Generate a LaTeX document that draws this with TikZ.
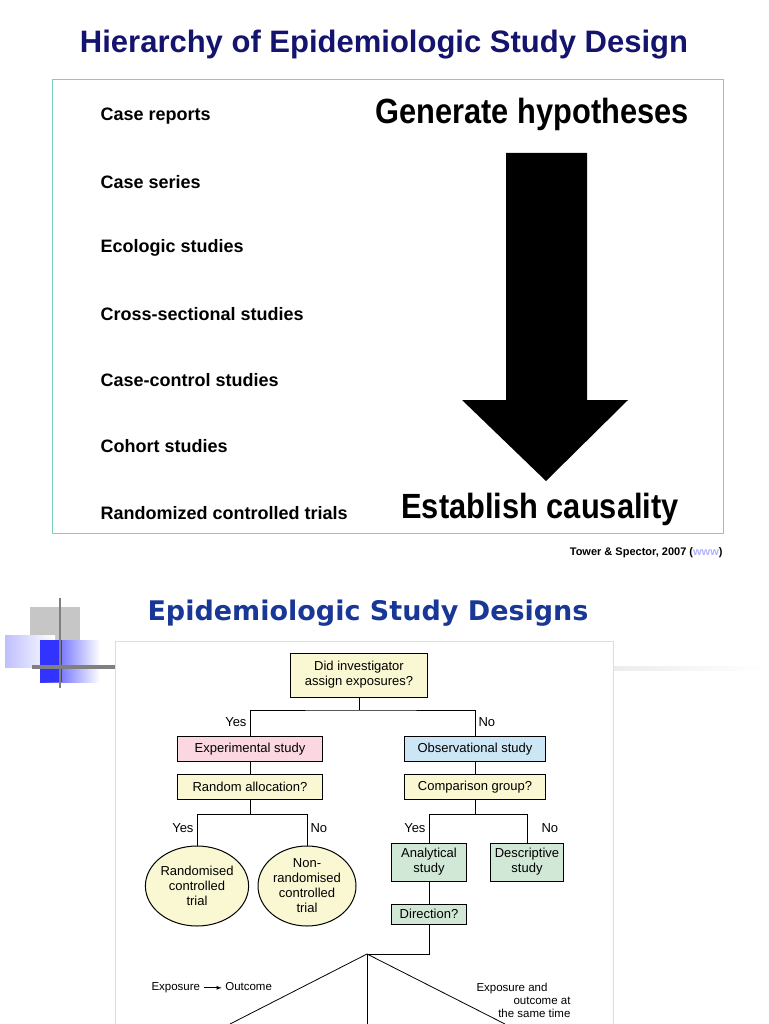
\documentclass[tikz,border=0pt]{standalone}
\usepackage{fontspec}
\setmainfont{Liberation Sans}
\newfontfamily\dejavu{DejaVu Sans}
\usetikzlibrary{shapes.geometric}
\definecolor{navy}{RGB}{20,20,110}
\definecolor{tblue}{RGB}{25,55,150}
\definecolor{teal}{RGB}{120,210,190}
\definecolor{pinkf}{RGB}{250,215,225}
\definecolor{bluef}{RGB}{205,230,245}
\definecolor{yelf}{RGB}{250,248,210}
\definecolor{greenf}{RGB}{210,232,215}
\begin{document}
\begin{tikzpicture}[x=1pt,y=-1pt,
  lst/.style={anchor=west,font=\fontsize{18}{18}\selectfont\bfseries},
  big/.style={font=\fontsize{35}{35}\selectfont\bfseries,xscale=0.88},
  bx/.style={draw=black,line width=1pt,minimum height=25pt,inner sep=2pt,font=\fontsize{13}{15}\selectfont},
  el/.style={ellipse,draw=black,line width=1pt,fill=yelf,minimum width=98pt,minimum height=80pt,inner sep=0pt,align=center,font=\fontsize{13}{15}\selectfont},
  lab/.style={font=\fontsize{13}{14}\selectfont},
  ln/.style={line width=0.8pt}]
\useasboundingbox (0,0) rectangle (768,1024);
\fill[white] (0,0) rectangle (768,1024);
% top half
\node[text=navy] (t1) at (384,45) {\fontsize{31}{31}\selectfont\bfseries Hierarchy of Epidemiologic Study Design};
\draw[teal,line width=1pt] (52,80) rectangle (723,533);
\node[lst] (l1) at (97,116) {Case reports};
\node[lst] (l2) at (97,182) {Case series};
\node[lst] (l3) at (97,248) {Ecologic studies};
\node[lst] (l4) at (97,314) {Cross-sectional studies};
\node[lst] (l5) at (97,380) {Case-control studies};
\node[lst] (l6) at (97,446) {Cohort studies};
\node[lst] (l7) at (97,513) {Randomized controlled trials};
\node[big] (gh) at (532,114) {Generate hypotheses};
\node[big] (ec) at (540,509) {Establish causality};
\fill[black] (506,153) -- (587,153) -- (587,400) -- (628,400) -- (546,481) -- (462,400) -- (506,400) -- cycle;
\node[anchor=east,font=\fontsize{11}{11}\selectfont\bfseries] (ref) at (726,553) {Tower \& Spector, 2007 (\textcolor{blue!30}{www})};
% bottom half decoration
\fill[gray!45] (30,607) rectangle (80,662);
\shade[left color=blue!25,right color=white] (5,635) rectangle (55,667);
\shade[left color=blue!80,right color=white] (40,640) rectangle (100,682);
\fill[blue!80] (40,640) rectangle (62,682);
\draw[gray,line width=1.5pt] (60,598) -- (60,688);
\draw[gray,line width=4pt] (32,667) -- (115,667);
\shade[left color=gray!15,right color=white] (613,666) rectangle (765,670);
\node[text=tblue] (t2) at (368,613) {\dejavu\fontsize{27}{27}\selectfont\bfseries Epidemiologic Study Designs};
\draw[blue!15,line width=1pt] (115,1024) -- (115,641) -- (613,641) -- (613,1024);
% flowchart
\node[bx,fill=yelf,align=center,minimum width=137pt,minimum height=44pt] (q1) at (359,675) {Did investigator\\assign exposures?};
\node[bx,fill=pinkf,minimum width=145pt] (exp) at (250,749) {Experimental study};
\node[bx,fill=bluef,minimum width=141pt] (obs) at (475,749) {Observational study};
\node[bx,fill=yelf,minimum width=145pt] (ra) at (250,787) {Random allocation?};
\node[bx,fill=yelf,minimum width=141pt] (cg) at (475,787) {Comparison group?};
\node[el] (rct) at (197,886) {Randomised\\controlled\\trial};
\node[el] (nrct) at (307,886) {Non-\\randomised\\controlled\\trial};
\node[bx,fill=greenf,align=center,minimum width=75pt,minimum height=38pt] (an) at (429,862) {Analytical\\study};
\node[bx,fill=greenf,align=center,minimum width=73pt,minimum height=38pt] (de) at (527,862) {Descriptive\\study};
\node[bx,fill=greenf,minimum width=75pt,minimum height=20pt] (dir) at (429,914) {Direction?};
\coordinate (j1) at (359,710);
\coordinate (j2) at (367,954);
\draw[ln] (q1.south) -- (j1);
\draw[ln] (exp.north) |- (j1) -| (obs.north);
\draw[ln] (exp) -- (ra);
\draw[ln] (obs) -- (cg);
\draw[ln] (ra.south) -- ++(0,14) -| (rct.north);
\draw[ln] (ra.south) ++(0,14) -| (nrct.north);
\draw[ln] (cg.south) -- ++(0,14) -| (an.north);
\draw[ln] (cg.south) ++(0,14) -| (de.north);
\draw[ln] (an) -- (dir);
\draw[ln] (dir.south) |- (j2);
\coordinate (e1) at (230,1024);
\coordinate (e2) at (367,1024);
\coordinate (e3) at (505,1024);
\draw[ln] (j2) -- (e1);
\draw[ln] (j2) -- (e2);
\draw[ln] (j2) -- (e3);
\node[lab,anchor=east] (y1) at (250,722) {Yes};
\node[lab,anchor=west] (n1) at (475,722) {No};
\node[lab,anchor=east] (y2) at (197,828) {Yes};
\node[lab,anchor=west] (n2) at (307,828) {No};
\node[lab,anchor=east] (y3) at (429,828) {Yes};
\node[lab,anchor=west] (n3) at (538,828) {No};
\node[lab,anchor=west,font=\fontsize{11.5}{11.5}\selectfont] (eo) at (148,988) {Exposure \tikz[baseline=-3pt]\draw[-latex,line width=0.8pt](0,0)--(18pt,0); Outcome};
\node[lab,anchor=north east,align=right,font=\fontsize{11.5}{13}\selectfont] (es) at (574,980) {Exposure and\hspace*{2em}\\outcome at\hspace*{1em}\\the same time};
\end{tikzpicture}
\end{document}
